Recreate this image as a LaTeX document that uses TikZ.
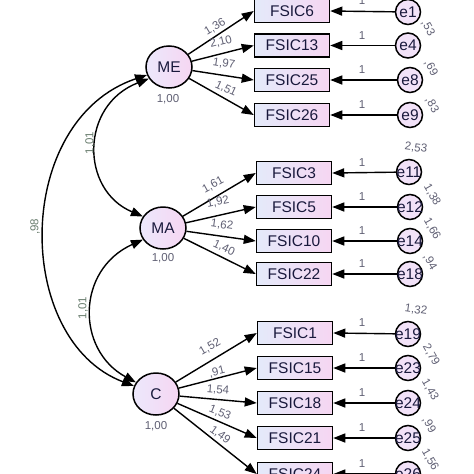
\documentclass[tikz,border=0pt]{standalone}
\usepackage{fontspec}
\setmainfont{Liberation Sans}
\usetikzlibrary{arrows.meta,shapes.geometric}
\definecolor{latA}{RGB}{236,232,252}
\definecolor{latB}{RGB}{246,214,242}
\definecolor{boxA}{RGB}{228,234,250}
\definecolor{boxB}{RGB}{246,214,242}
\definecolor{errfill}{RGB}{242,226,248}
\definecolor{navy}{RGB}{25,25,60}
\definecolor{labgray}{RGB}{95,95,115}
\definecolor{covgray}{RGB}{105,125,110}
\begin{document}
\begin{tikzpicture}[x=1pt,y=-1pt,
  latent/.style={ellipse, draw, line width=1.5pt, minimum width=46pt, minimum height=42pt, inner sep=0pt, left color=latA, right color=latB, text=navy, font=\fontsize{15.5}{15.5}\selectfont},
  obs/.style={rectangle, draw, line width=1.5pt, minimum width=75pt, minimum height=23pt, inner sep=0pt, left color=boxA, right color=boxB, text=navy, font=\fontsize{15.5}{15.5}\selectfont},
  err/.style={circle, draw, line width=1.5pt, minimum size=25pt, inner sep=0pt, fill=errfill},
  errtext/.style={text=navy, inner sep=0pt, font=\fontsize{15.5}{15.5}\selectfont},
  arr/.style={line width=1.4pt, -{Triangle[length=12pt,width=9pt]}},
  cov/.style={line width=1.4pt, {Triangle[length=12pt,width=9pt]}-{Triangle[length=12pt,width=9pt]}},
  lab/.style={font=\fontsize{11.5}{11.5}\selectfont, text=labgray, inner sep=0pt},
  clab/.style={font=\fontsize{11.5}{11.5}\selectfont, text=covgray, inner sep=0pt, rotate=90}
]
\useasboundingbox (0,0) rectangle (474,474);
\clip (0,0) rectangle (474,474);

% latent variables
\node[latent] (ME) at (169,67) {ME};
\node[latent] (MA) at (163,228) {MA};
\node[latent] (C) at (156,394) {C};
\node[lab] (vME) at (168,99) {1,00};
\node[lab] (vMA) at (163,258) {1,00};
\node[lab] (vC) at (156,426) {1,00};

% covariances
\draw[cov] (ME.210) .. controls (80,105) and (80,190) .. (MA.150);
\draw[cov] (ME.200) .. controls (13,120) and (13,340) .. (C.160);
\draw[cov] (MA.210) .. controls (76,270) and (76,350) .. (C.150);
\node[clab] (c1) at (90,143) {1,01};
\node[clab] (c2) at (35,227) {,98};
\node[clab] (c3) at (83,308) {1,01};

% ME group
\node[obs] (b6) at (292,11) {FSIC6};
\node[obs] (b13) at (292,45.5) {FSIC13};
\node[obs] (b25) at (292,80) {FSIC25};
\node[obs] (b26) at (292,115) {FSIC26};
\node[err, label={[errtext]center:e1}] (e1) at (408,12) {};
\node[err, label={[errtext]center:e4}] (e4) at (408,45.5) {};
\node[err, label={[errtext]center:e8}] (e8) at (410,80) {};
\node[err, label={[errtext]center:e9}] (e9) at (410,115) {};

% MA group
\node[obs] (b3) at (294,173) {FSIC3};
\node[obs] (b5) at (294,207) {FSIC5};
\node[obs] (b10) at (294,241) {FSIC10};
\node[obs] (b22) at (294,274) {FSIC22};
\node[err, label={[errtext]center:e11}] (e11) at (409,172) {};
\node[err, label={[errtext]center:e12}] (e12) at (410,207) {};
\node[err, label={[errtext]center:e14}] (e14) at (410,241) {};
\node[err, label={[errtext]center:e18}] (e18) at (410,274) {};

% C group
\node[obs] (b1) at (295,333) {FSIC1};
\node[obs] (b15) at (295,368) {FSIC15};
\node[obs] (b18) at (295,403) {FSIC18};
\node[obs] (b21) at (295,438) {FSIC21};
\node[obs] (b24) at (295,474) {FSIC24};
\node[err, label={[errtext]center:e19}] (e19) at (408,334) {};
\node[err, label={[errtext]center:e23}] (e23) at (408,368) {};
\node[err, label={[errtext]center:e24}] (e24) at (408,403) {};
\node[err, label={[errtext]center:e25}] (e25) at (408,438) {};
\node[err, label={[errtext]center:e26}] (e26) at (408,474) {};

% loadings
\foreach \b in {b6,b13,b25,b26} \draw[arr] (ME) -- (\b.west);
\foreach \b in {b3,b5,b10,b22} \draw[arr] (MA) -- (\b.west);
\foreach \b in {b1,b15,b18,b21,b24} \draw[arr] (C) -- (\b.west);

\node[lab, rotate=31] (l1) at (215,27) {1,36};
\node[lab, rotate=14] (l2) at (221,42) {2,10};
\node[lab, rotate=-9] (l3) at (224,64) {1,97};
\node[lab, rotate=-25] (l4) at (226,89) {1,51};

\node[lab, rotate=29] (l5) at (213,185) {1,61};
\node[lab, rotate=12] (l6) at (218,202) {1,92};
\node[lab, rotate=-8] (l7) at (222,225) {1,62};
\node[lab, rotate=-25] (l8) at (224,248) {1,40};

\node[lab, rotate=30] (l9) at (210,347) {1,52};
\node[lab, rotate=14] (l10) at (217,372) {,91};
\node[lab, rotate=-5] (l11) at (218,390) {1,54};
\node[lab, rotate=-22] (l12) at (220,413) {1,53};
\node[lab, rotate=-36] (l13) at (220,435) {1,49};

% error paths
\foreach \e/\b in {e1/b6,e4/b13,e8/b25,e9/b26,e11/b3,e12/b5,e14/b10,e18/b22,e19/b1,e23/b15,e24/b18,e25/b21,e26/b24}
  \draw[arr] (\e) -- (\b.east);
\foreach \y in {1,35.5,70,105,163,197,231,264,323,358,393,428,464}
  \node[lab] at (362,\y) {1};

% error variances
\node[lab, rotate=-60] (v4) at (428,28) {,53};
\node[lab, rotate=-60] (v8) at (431,68) {,69};
\node[lab, rotate=-60] (v9) at (432,105) {,83};
\node[lab, rotate=-8] (v11) at (416,148) {2,53};
\node[lab, rotate=-60] (v12) at (432,195) {1,38};
\node[lab, rotate=-60] (v14) at (432,229) {1,66};
\node[lab, rotate=-60] (v18) at (430,262) {,94};
\node[lab, rotate=-8] (v19) at (416,310) {1,32};
\node[lab, rotate=-60] (v23) at (431,355) {2,79};
\node[lab, rotate=-60] (v24) at (430,390) {1,43};
\node[lab, rotate=-60] (v25) at (429,425) {,99};
\node[lab, rotate=-60] (v26) at (430,460) {1,56};
\end{tikzpicture}
\end{document}
